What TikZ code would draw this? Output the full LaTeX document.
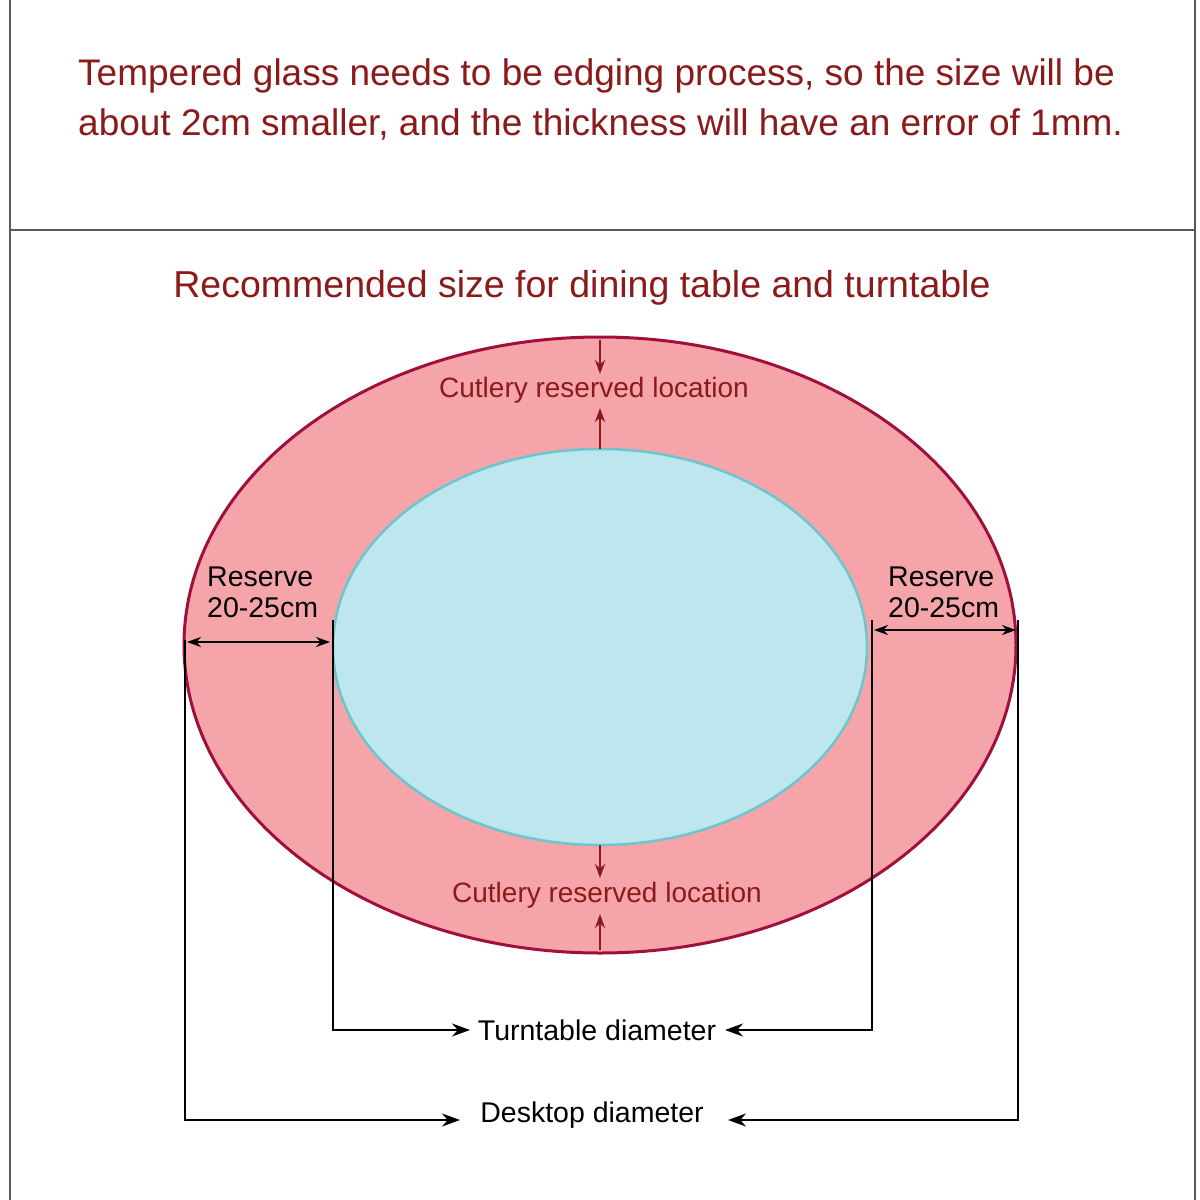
\documentclass[tikz,border=0pt]{standalone}
\usepackage{fontspec}
\setmainfont{Liberation Sans}
\usetikzlibrary{arrows.meta}
\definecolor{dred}{HTML}{8B1A1A}
\definecolor{pinkf}{HTML}{F5A5AA}
\definecolor{rimc}{HTML}{A0103A}
\definecolor{bluef}{HTML}{BDE6EE}
\definecolor{bluer}{HTML}{6CC6CC}
\tikzset{dim/.style={draw=black,line width=2.4pt},
 arr/.style={dim,-{Stealth[length=18pt,width=13pt]}},
 rarr/.style={draw=dred,line width=2.2pt,-{Stealth[length=14pt,width=10pt]}},
 lab/.style={font=\fontsize{28.5}{31}\selectfont,text=black,inner sep=0pt},
 rlab/.style={font=\fontsize{28}{31}\selectfont,text=dred,inner sep=0pt}}
\begin{document}
\begin{tikzpicture}[x=1pt,y=-1pt]
\useasboundingbox (0,0) rectangle (1200,1200);
\fill[white] (0,0) rectangle (1200,1200);
\draw[gray!70!black,line width=2pt] (10,0) -- (10,1200) (1195,0) -- (1195,1200) (10,230) -- (1195,230);
\node[text=dred,font=\fontsize{37}{50}\selectfont,align=left,anchor=north west,inner sep=0pt] (top) at (78,58) {Tempered glass needs to be edging process, so the size will be\\about 2cm smaller, and the thickness will have an error of 1mm.};
\node[text=dred,font=\fontsize{37.5}{40}\selectfont,inner sep=0pt] (title) at (582,288) {Recommended size for dining table and turntable};
\draw[fill=pinkf,draw=rimc,line width=3pt] (600,645) ellipse [x radius=416,y radius=308];
\draw[fill=bluef,draw=bluer,line width=2.5pt] (600,647) ellipse [x radius=267,y radius=198];
\node[rlab] (ct) at (594,390) {Cutlery reserved location};
\node[rlab] (cb) at (607,895) {Cutlery reserved location};
\draw[rarr] (600,340) -- (600,374);
\draw[rarr] (600,449) -- (600,408);
\draw[rarr] (600,845) -- (600,878);
\draw[rarr] (600,950) -- (600,914);
\node[lab,align=left,anchor=north west] (rl) at (207,567) {Reserve\\20-25cm};
\node[lab,align=left,anchor=north west] (rr) at (888,567) {Reserve\\20-25cm};
\draw[dim,{Stealth[length=14pt,width=10pt]}-{Stealth[length=14pt,width=10pt]}] (187,642) -- (330,642);
\draw[dim,{Stealth[length=14pt,width=10pt]}-{Stealth[length=14pt,width=10pt]}] (874,630) -- (1016,630);
\node[lab] (td) at (597,1030) {Turntable diameter};
\node[lab] (dd) at (592,1115) {Desktop diameter};
\draw[dim] (333,620) -- (333,1030) -- (350,1030);
\draw[arr] (340,1030) -- (470,1030);
\draw[dim] (872,620) -- (872,1030) -- (860,1030);
\draw[arr] (866,1030) -- (725,1030);
\draw[dim] (185,640) -- (185,1120) -- (200,1120);
\draw[arr] (190,1120) -- (460,1120);
\draw[dim] (1018,620) -- (1018,1120) -- (1000,1120);
\draw[arr] (1012,1120) -- (728,1120);
\end{tikzpicture}
\end{document}
